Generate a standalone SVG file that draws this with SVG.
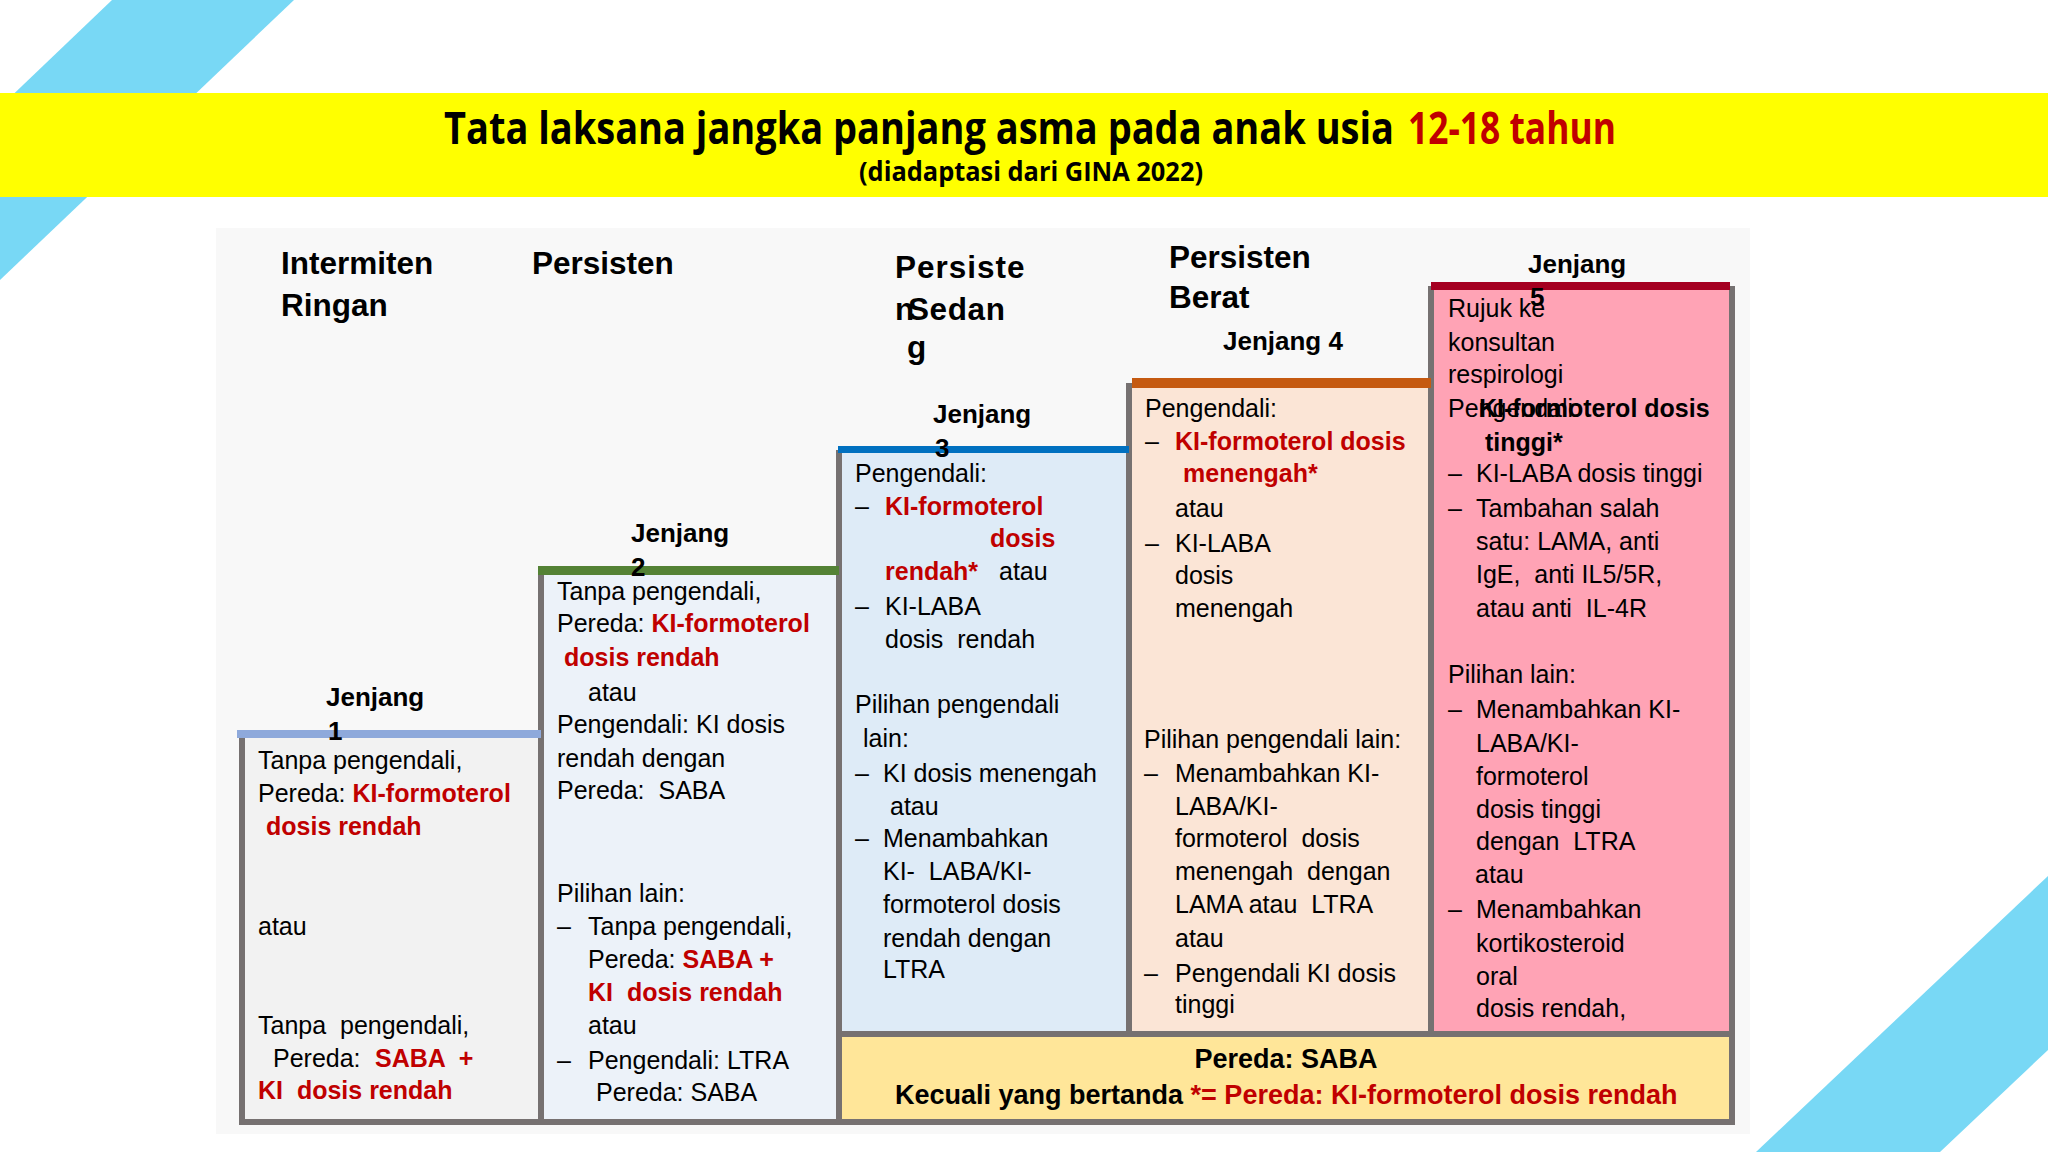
<svg xmlns="http://www.w3.org/2000/svg" width="2048" height="1152" viewBox="0 0 2048 1152">
<style>
text{font-family:"Liberation Sans",Arial,sans-serif;fill:#000}
.b{font-size:25px}
.r{fill:#C00000;font-weight:bold}
.k{font-weight:bold}
.h{font-size:31.5px;font-weight:bold}
.j{font-size:26px;font-weight:bold}
.t{font-family:"Open Sans","Liberation Sans",sans-serif;font-weight:bold}
.bd{stroke:#767171;stroke-width:6;fill:none}
</style>
<rect width="2048" height="1152" fill="#FFFFFF"/>
<g id="decor">
<polygon points="112,0 294,0 0,280 0,107" fill="#78D8F5"/>
<polygon points="1756,1152 2048,876 2048,1050 1940,1152" fill="#78D8F5"/>
<rect x="0" y="93" width="2048" height="104" fill="#FFFF00"/>
</g>
<g id="title">
<text class="t" x="444" y="144" font-size="44" textLength="950" lengthAdjust="spacingAndGlyphs">Tata laksana jangka panjang asma pada anak usia</text>
<text class="t" x="1408" y="144" font-size="44" fill="#C00000" style="fill:#C00000" textLength="208" lengthAdjust="spacingAndGlyphs">12-18 tahun</text>
<text class="t" x="859" y="181" font-size="26" textLength="344" lengthAdjust="spacingAndGlyphs">(diadaptasi dari GINA 2022)</text>
</g>
<rect id="panel" x="216" y="228" width="1534" height="906" fill="#F8F8F8"/>
<g id="fills">
<rect x="242" y="734" width="299" height="388" fill="#F2F2F2"/>
<rect x="541" y="570" width="298" height="552" fill="#ECF2F9"/>
<rect x="839" y="450" width="290" height="584" fill="#DEEBF7"/>
<rect x="1129" y="383" width="302" height="651" fill="#FBE5D6"/>
<rect x="1431" y="286" width="301" height="748" fill="#FFA3B5"/>
<rect x="839" y="1034" width="893" height="88" fill="#FFE699"/>
</g>
<g id="connectors">
<path class="bd" d="M242,734 V1122 M239,1122 H1735 M541,570 V1122 M839,450 V1122 M1129,383 V1034 M1431,286 V1034 M1732,286 V1125 M839,1034 H1732"/>
<rect x="237" y="730" width="304" height="8" fill="#8EA9DB"/>
<rect x="538" y="566" width="301" height="9" fill="#548235"/>
<rect x="838" y="446" width="291" height="7" fill="#0070C0"/>
<rect x="1132" y="378" width="299" height="10" fill="#C55A11"/>
<rect x="1431" y="282" width="299" height="8" fill="#A50021"/>
</g>
<g id="headers">
<text class="h" x="281" y="274">Intermiten</text>
<text class="h" x="281" y="316">Ringan</text>
<text class="h" x="532" y="274">Persisten</text>
<text class="h" x="895" y="278" letter-spacing="1">Persiste</text>
<text class="h" x="895" y="320">n</text>
<text class="h" x="908" y="320" letter-spacing="0.6">Sedan</text>
<text class="h" x="907" y="358">g</text>
<text class="h" x="1169" y="268">Persisten</text>
<text class="h" x="1169" y="308">Berat</text>
</g>
<g id="step1">
<text class="j" x="326" y="706">Jenjang</text>
<text class="j" x="328" y="740">1</text>
<text class="b" x="258" y="769">Tanpa pengendali,</text>
<text class="b" x="258" y="802">Pereda: <tspan class="r">KI-formoterol</tspan></text>
<text class="b r" x="266" y="835">dosis rendah</text>
<text class="b" x="258" y="935">atau</text>
<text class="b" x="258" y="1034" xml:space="preserve">Tanpa  pengendali,</text>
<text class="b" x="273" y="1067">Pereda:<tspan class="r" x="375" xml:space="preserve">SABA  +</tspan></text>
<text class="b r" x="258" y="1099" xml:space="preserve">KI  dosis rendah</text>
</g>
<g id="step2">
<text class="j" x="631" y="542">Jenjang</text>
<text class="j" x="631" y="576">2</text>
<text class="b" x="557" y="600">Tanpa pengendali,</text>
<text class="b" x="557" y="632">Pereda: <tspan class="r">KI-formoterol</tspan></text>
<text class="b r" x="564" y="666">dosis rendah</text>
<text class="b" x="588" y="701">atau</text>
<text class="b" x="557" y="733">Pengendali: KI dosis</text>
<text class="b" x="557" y="767">rendah dengan</text>
<text class="b" x="557" y="799" xml:space="preserve">Pereda:  SABA</text>
<text class="b" x="557" y="902">Pilihan lain:</text>
<text class="b" x="557" y="935">–<tspan x="588">Tanpa pengendali,</tspan></text>
<text class="b" x="588" y="968">Pereda: <tspan class="r">SABA +</tspan></text>
<text class="b r" x="588" y="1001" xml:space="preserve">KI  dosis rendah</text>
<text class="b" x="588" y="1034">atau</text>
<text class="b" x="557" y="1069">–<tspan x="588">Pengendali: LTRA</tspan></text>
<text class="b" x="596" y="1101">Pereda: SABA</text>
</g>
<g id="step3">
<text class="j" x="933" y="423">Jenjang</text>
<text class="j" x="935" y="457">3</text>
<text class="b" x="855" y="482">Pengendali:</text>
<text class="b" x="855" y="515">–<tspan class="r" x="885">KI-formoterol</tspan></text>
<text class="b r" x="990" y="547">dosis</text>
<text class="b" x="885" y="580"><tspan class="r">rendah*</tspan><tspan x="999">atau</tspan></text>
<text class="b" x="855" y="615">–<tspan x="885">KI-LABA</tspan></text>
<text class="b" x="885" y="648" xml:space="preserve">dosis  rendah</text>
<text class="b" x="855" y="713">Pilihan pengendali</text>
<text class="b" x="863" y="747">lain:</text>
<text class="b" x="855" y="782">–<tspan x="883">KI dosis menengah</tspan></text>
<text class="b" x="890" y="815">atau</text>
<text class="b" x="855" y="847">–<tspan x="883">Menambahkan</tspan></text>
<text class="b" x="883" y="880" xml:space="preserve">KI-  LABA/KI-</text>
<text class="b" x="883" y="913">formoterol dosis</text>
<text class="b" x="883" y="947">rendah dengan</text>
<text class="b" x="883" y="978">LTRA</text>
</g>
<g id="step4">
<text class="j" x="1223" y="350">Jenjang 4</text>
<text class="b" x="1145" y="417">Pengendali:</text>
<text class="b" x="1145" y="450">–<tspan class="r" x="1175">KI-formoterol dosis</tspan></text>
<text class="b r" x="1183" y="482">menengah*</text>
<text class="b" x="1175" y="517">atau</text>
<text class="b" x="1145" y="552">–<tspan x="1175">KI-LABA</tspan></text>
<text class="b" x="1175" y="584">dosis</text>
<text class="b" x="1175" y="617">menengah</text>
<text class="b" x="1144" y="748">Pilihan pengendali lain:</text>
<text class="b" x="1144" y="782">–<tspan x="1175">Menambahkan KI-</tspan></text>
<text class="b" x="1175" y="815">LABA/KI-</text>
<text class="b" x="1175" y="847" xml:space="preserve">formoterol  dosis</text>
<text class="b" x="1175" y="880" xml:space="preserve">menengah  dengan</text>
<text class="b" x="1175" y="913" xml:space="preserve">LAMA atau  LTRA</text>
<text class="b" x="1175" y="947">atau</text>
<text class="b" x="1144" y="982">–<tspan x="1175">Pengendali KI dosis</tspan></text>
<text class="b" x="1175" y="1013">tinggi</text>
</g>
<g id="step5">
<text class="j" x="1528" y="273">Jenjang</text>
<text class="j" x="1530" y="306">5</text>
<text class="b" x="1448" y="317">Rujuk ke</text>
<text class="b" x="1448" y="351">konsultan</text>
<text class="b" x="1448" y="383">respirologi</text>
<text class="b" x="1448" y="417">Pengendali:</text>
<text class="b k" x="1479" y="417">KI-formoterol dosis</text>
<text class="b k" x="1485" y="451">tinggi*</text>
<text class="b" x="1448" y="482">–<tspan x="1476">KI-LABA dosis tinggi</tspan></text>
<text class="b" x="1448" y="517">–<tspan x="1476">Tambahan salah</tspan></text>
<text class="b" x="1476" y="550">satu: LAMA, anti</text>
<text class="b" x="1476" y="583" xml:space="preserve">IgE,  anti IL5/5R,</text>
<text class="b" x="1476" y="617" xml:space="preserve">atau anti  IL-4R</text>
<text class="b" x="1448" y="683">Pilihan lain:</text>
<text class="b" x="1448" y="718">–<tspan x="1476">Menambahkan KI-</tspan></text>
<text class="b" x="1476" y="752">LABA/KI-</text>
<text class="b" x="1476" y="785">formoterol</text>
<text class="b" x="1476" y="818">dosis tinggi</text>
<text class="b" x="1476" y="850" xml:space="preserve">dengan  LTRA</text>
<text class="b" x="1475" y="883">atau</text>
<text class="b" x="1448" y="918">–<tspan x="1476">Menambahkan</tspan></text>
<text class="b" x="1476" y="952">kortikosteroid</text>
<text class="b" x="1476" y="985">oral</text>
<text class="b" x="1476" y="1017">dosis rendah,</text>
</g>
<g id="footer">
<text class="k" x="1286" y="1068" font-size="27" text-anchor="middle">Pereda: SABA</text>
<text class="k" x="895" y="1104" font-size="27">Kecuali yang bertanda <tspan fill="#C00000">*= Pereda: KI-formoterol dosis rendah</tspan></text>
</g>
</svg>
